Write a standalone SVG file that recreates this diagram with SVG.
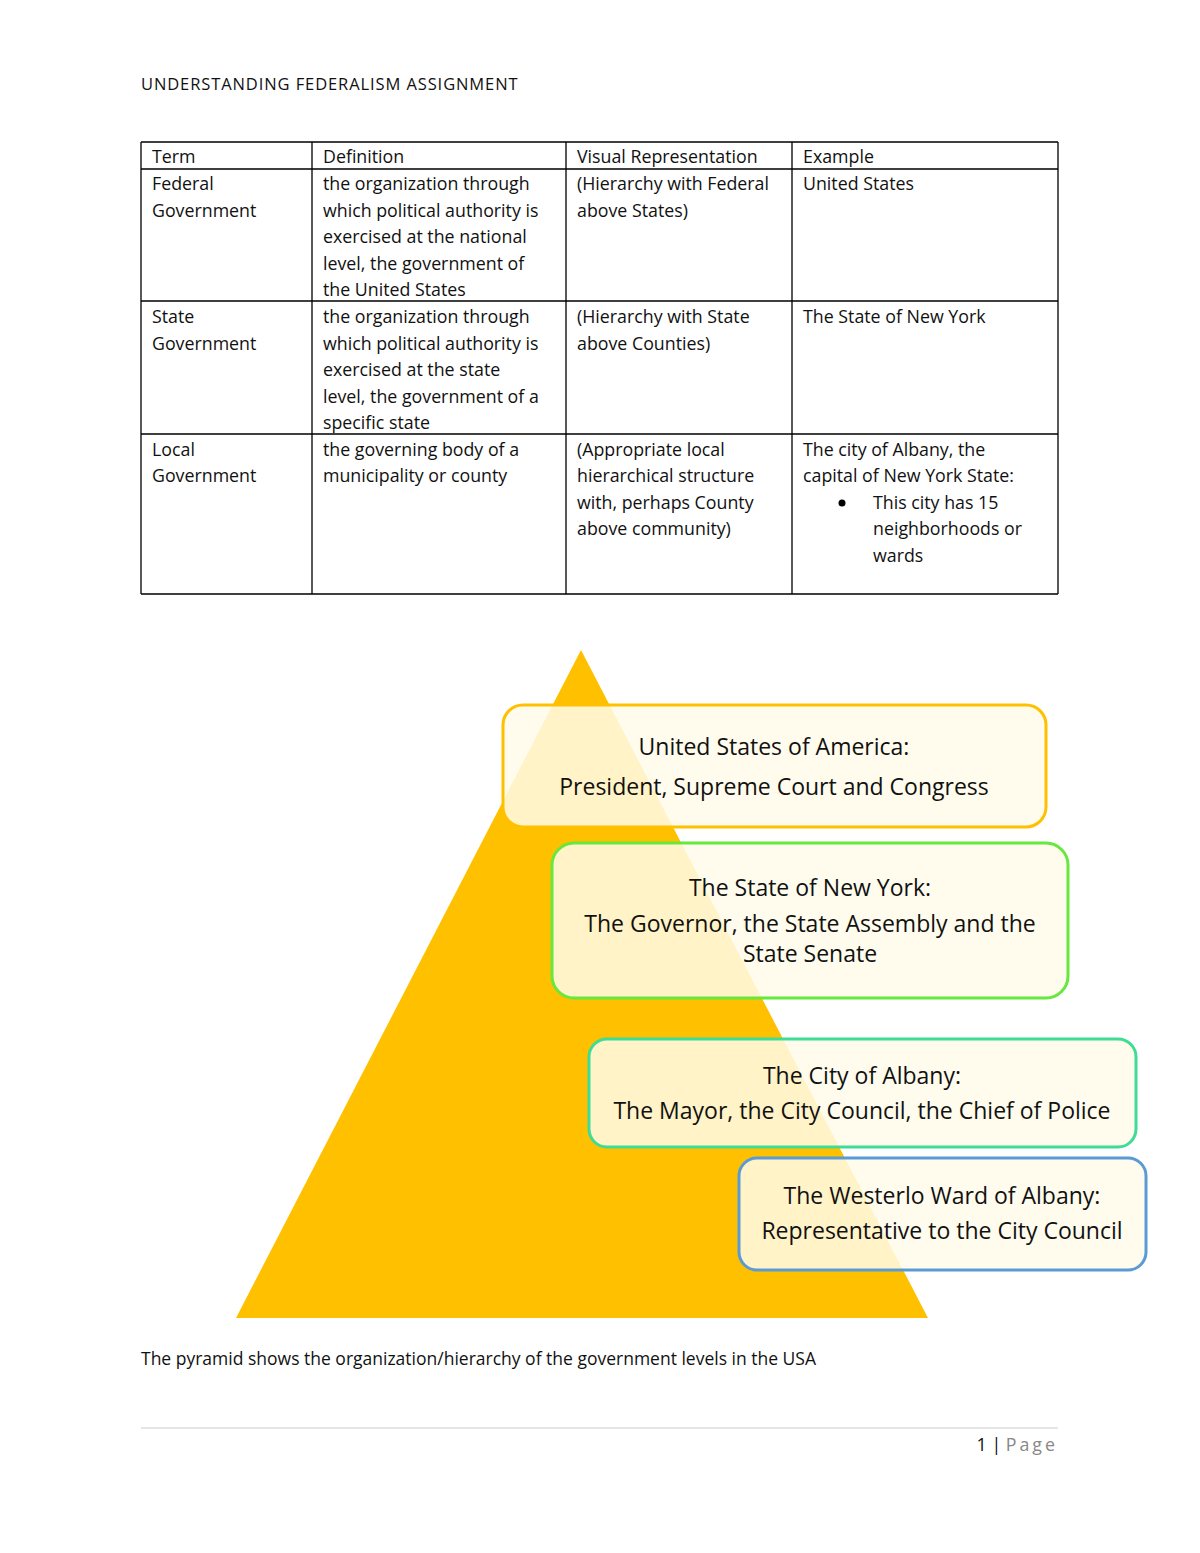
<svg xmlns="http://www.w3.org/2000/svg" width="1200" height="1553" viewBox="0 0 1200 1553">
<style>
text{font-family:"Open Sans","Liberation Sans",sans-serif;fill:#111}
.t{font-size:17.8px}
.b{font-size:23px;text-anchor:middle}
.box{fill:#FFFBEA;fill-opacity:0.85;stroke-width:3}
.g{stroke:#000;stroke-width:1.3;fill:none}
</style>
<rect width="1200" height="1553" fill="#fff"/>
<text x="141" y="90" style="font-size:16.5px;letter-spacing:0.9px">UNDERSTANDING FEDERALISM ASSIGNMENT</text>
<g id="table">
<path class="g" d="M141 142H1058M141 169H1058M141 301H1058M141 434H1058M141 594H1058M141 142V594M312 142V594M566 142V594M792 142V594M1058 142V594"/>
<g>
<text x="152" y="163" class="t">Term</text><text x="323" y="163" class="t">Definition</text><text x="577" y="163" class="t">Visual Representation</text><text x="803" y="163" class="t">Example</text>
<text x="152" y="190" class="t">Federal</text><text x="152" y="217" class="t">Government</text>
<text class="t" x="323" y="190">the organization through</text><text class="t" x="323" y="217">which political authority is</text><text class="t" x="323" y="243">exercised at the national</text><text class="t" x="323" y="270">level, the government of</text><text class="t" x="323" y="296">the United States</text>
<text class="t" x="577" y="190">(Hierarchy with Federal</text><text class="t" x="577" y="217">above States)</text>
<text class="t" x="803" y="190">United States</text>
<text x="152" y="323" class="t">State</text><text x="152" y="350" class="t">Government</text>
<text class="t" x="323" y="323">the organization through</text><text class="t" x="323" y="350">which political authority is</text><text class="t" x="323" y="376">exercised at the state</text><text class="t" x="323" y="403">level, the government of a</text><text class="t" x="323" y="429">specific state</text>
<text class="t" x="577" y="323">(Hierarchy with State</text><text class="t" x="577" y="350">above Counties)</text>
<text class="t" x="803" y="323">The State of New York</text>
<text x="152" y="456" class="t">Local</text><text x="152" y="482" class="t">Government</text>
<text class="t" x="323" y="456">the governing body of a</text><text class="t" x="323" y="482">municipality or county</text>
<text class="t" x="577" y="456">(Appropriate local</text><text class="t" x="577" y="482">hierarchical structure</text><text class="t" x="577" y="509">with, perhaps County</text><text class="t" x="577" y="535">above community)</text>
<text class="t" x="803" y="456">The city of Albany, the</text><text class="t" x="803" y="482">capital of New York State:</text>
<circle cx="842" cy="503" r="3.5" fill="#000"/>
<text class="t" x="873" y="509">This city has 15</text><text class="t" x="873" y="535">neighborhoods or</text><text class="t" x="873" y="562">wards</text>
</g>
</g>
<g id="pyramid"><polygon points="581,650 236,1318 928,1318" fill="#FFC000"/></g>
<g id="n1"><rect class="box" x="503" y="705" width="543" height="122" rx="20" stroke="#FFC000"/>
<text class="b" x="774" y="755">United States of America:</text><text class="b" x="774" y="795">President, Supreme Court and Congress</text></g>
<g id="n2"><rect class="box" x="552" y="843" width="516" height="155" rx="22" stroke="#66E83C"/>
<text class="b" x="810" y="896">The State of New York:</text><text class="b" x="810" y="932">The Governor, the State Assembly and the</text><text class="b" x="810" y="962">State Senate</text></g>
<g id="n3"><rect class="box" x="589" y="1039" width="547" height="108" rx="18" stroke="#3EDC95"/>
<text class="b" x="862" y="1084">The City of Albany:</text><text class="b" x="862" y="1119">The Mayor, the City Council, the Chief of Police</text></g>
<g id="n4"><rect class="box" x="739" y="1158" width="407" height="112" rx="18" stroke="#5B9BD5"/>
<text class="b" x="942" y="1204">The Westerlo Ward of Albany:</text><text class="b" x="942" y="1239">Representative to the City Council</text></g>
<g id="connectors"/>
<text x="141" y="1365" style="font-size:17.5px">The pyramid shows the organization/hierarchy of the government levels in the USA</text>
<line x1="141" y1="1428" x2="1058" y2="1428" stroke="#ddd" stroke-width="1.3"/>
<text x="1058" y="1451" class="t" text-anchor="end"><tspan>1 | </tspan><tspan fill="#888" letter-spacing="3">Page</tspan></text>
</svg>
